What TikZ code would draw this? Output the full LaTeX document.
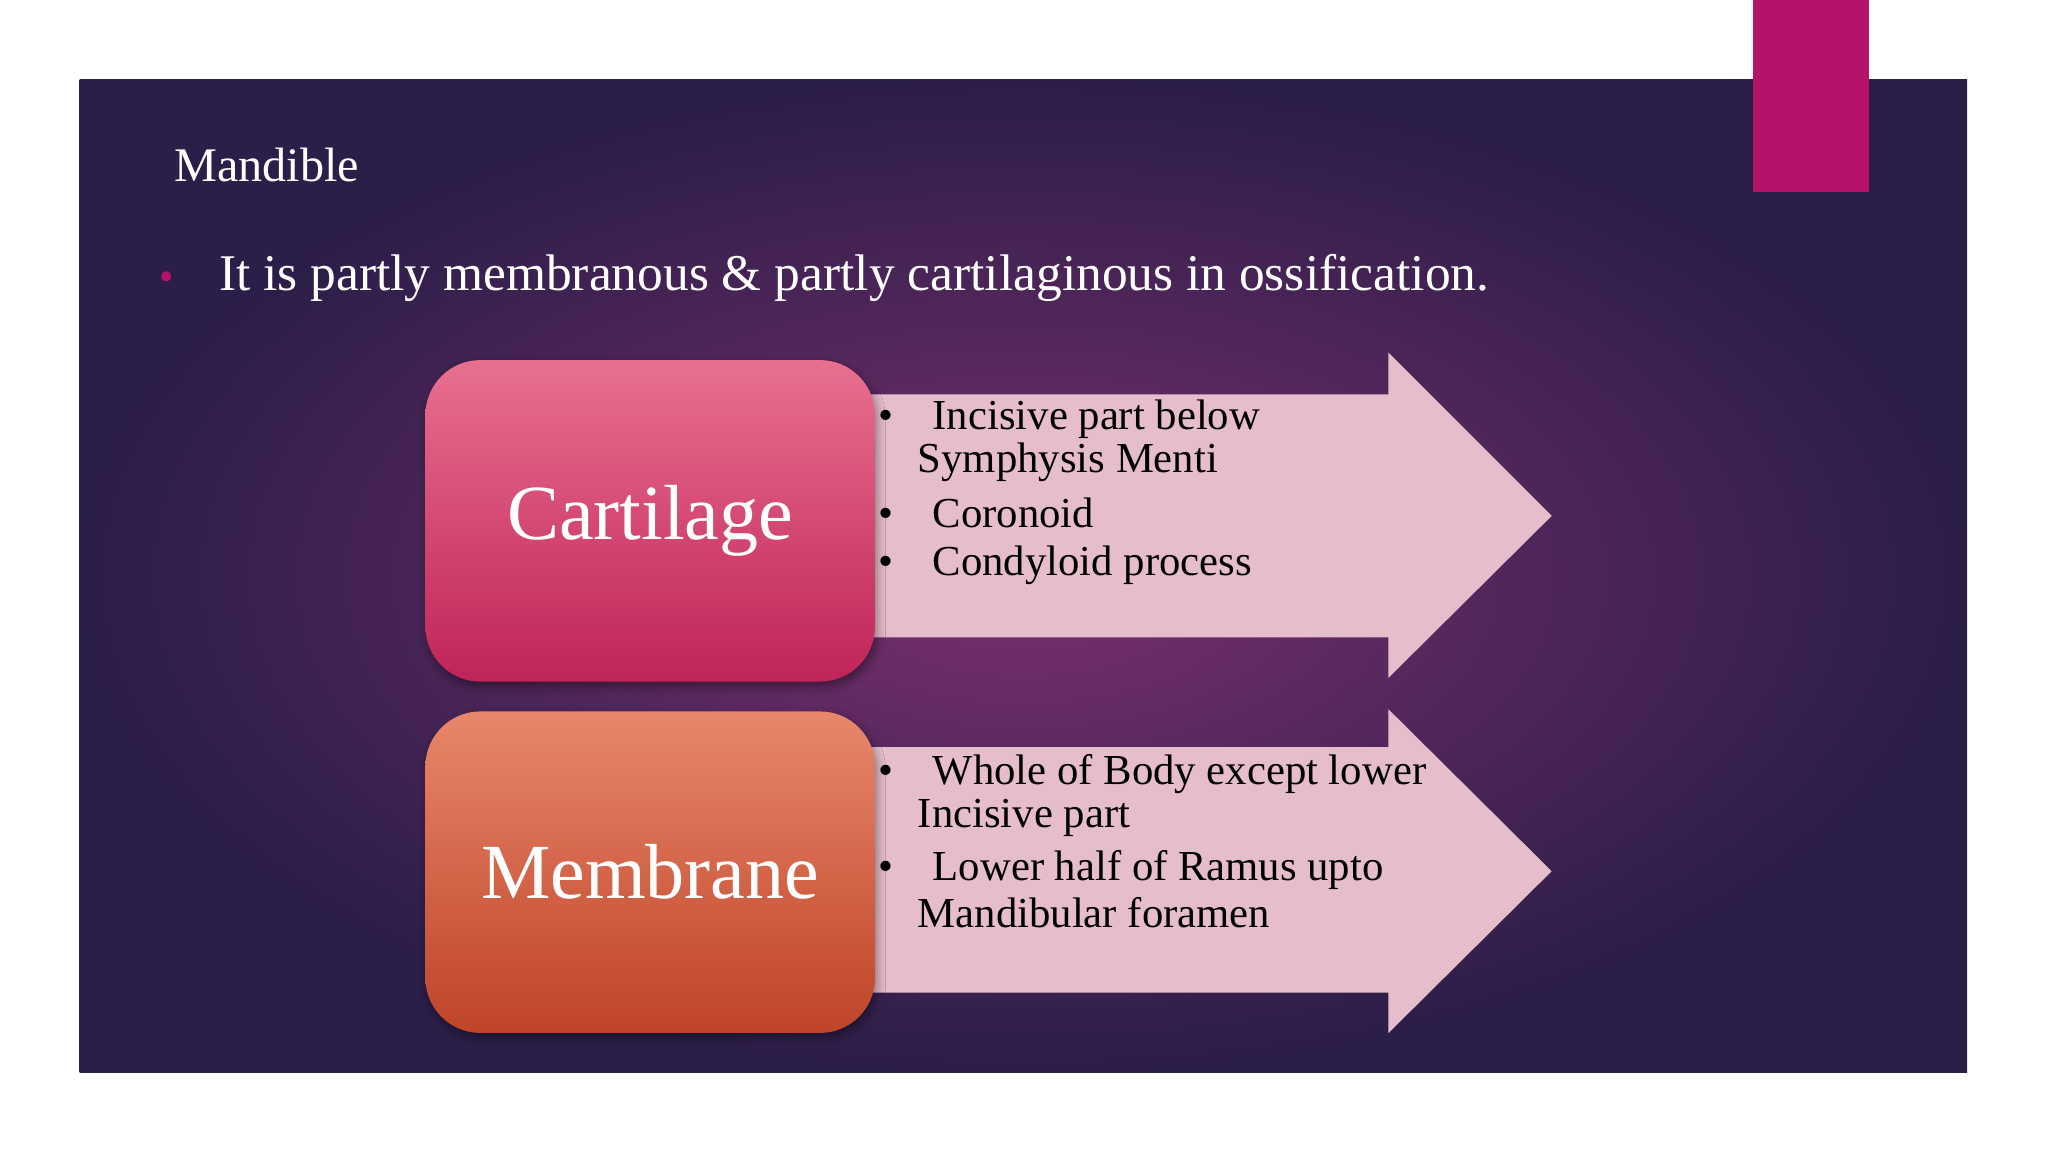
\documentclass[tikz,border=0pt]{standalone}
\usepackage{fontspec}
\setmainfont{Liberation Serif}
\usetikzlibrary{positioning, shadows.blur}
\definecolor{slideout}{HTML}{2B1E48}
\definecolor{slidein}{HTML}{7A2F6E}
\definecolor{accent}{HTML}{B5136A}
\definecolor{arrowfill}{HTML}{E6BDCB}
\definecolor{cartop}{HTML}{E8708F}
\definecolor{carbot}{HTML}{C02458}
\definecolor{memtop}{HTML}{E8876B}
\definecolor{membot}{HTML}{BF4428}
\begin{document}
\begin{tikzpicture}[x=0.01cm, y=-0.01cm]
% Block styles
\tikzstyle{box}=[rounded corners=0.42cm, minimum width=3.44cm, minimum height=2.46cm, anchor=north west, text=white, font=\fontsize{17}{20}\selectfont, blur shadow={shadow blur steps=5, shadow xshift=0.5pt, shadow yshift=-1pt}]
\tikzstyle{item}=[anchor=west, font=\fontsize{9.3}{10}\selectfont, inner sep=0pt]
\useasboundingbox (0,0) rectangle (1568,882);
\fill[white] (0,0) rectangle (1568,882);
% Slide
\shade[inner color=slidein, outer color=slideout] (61,61) rectangle (1506,821);
\fill[accent] (1342,0) rectangle (1431,147);
\node[anchor=west, text=white, font=\fontsize{10.5}{12}\selectfont] (title) at (121,126) {Mandible};
\node[text=accent, font=\small] (dot) at (128,215) {\textbullet};
\node[anchor=west, text=white, font=\fontsize{11.2}{13}\selectfont, inner sep=0pt] (lead) at (167,213) {It is partly membranous \& partly cartilaginous in ossification.};
% Arrows
\fill[arrowfill] (660,302) -- (1063,302) -- (1063,270) -- (1188,395) -- (1063,519) -- (1063,488) -- (660,488) -- cycle;
\fill[arrowfill] (660,572) -- (1063,572) -- (1063,543) -- (1188,667) -- (1063,791) -- (1063,760) -- (660,760) -- cycle;
% Boxes
\node[box, top color=cartop, bottom color=carbot] (cart) at (325,275) {Cartilage};
\node[box, top color=memtop, bottom color=membot] (memb) at (325,544) {Membrane};
% Col 1
\node[item] (c1) at (672,321) {\textbullet\hspace{0.3cm}Incisive part below};
\node[item] (c2) at (702,354) {Symphysis Menti};
\node[item] (c3) at (672,393) {\textbullet\hspace{0.3cm}Coronoid};
\node[item] (c4) at (672,433) {\textbullet\hspace{0.3cm}Condyloid process};
% Col 2
\node[item] (m1) at (672,593) {\textbullet\hspace{0.3cm}Whole of Body except lower};
\node[item] (m2) at (702,626) {Incisive part};
\node[item] (m3) at (672,666) {\textbullet\hspace{0.3cm}Lower half of Ramus upto};
\node[item] (m4) at (702,699) {Mandibular foramen};
\end{tikzpicture}
\end{document}
